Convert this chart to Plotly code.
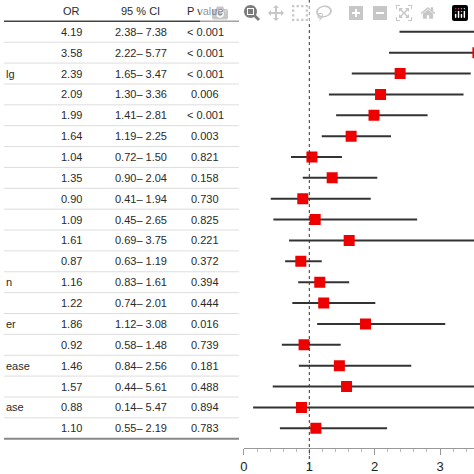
import plotly.graph_objects as go

or_vals = [4.19, 3.58, 2.39, 2.09, 1.99, 1.64, 1.04, 1.35, 0.90, 1.09, 1.61, 0.87, 1.16, 1.22, 1.86, 0.92, 1.46, 1.57, 0.88, 1.10]
ci_low = [2.38, 2.22, 1.65, 1.30, 1.41, 1.19, 0.72, 0.90, 0.41, 0.45, 0.69, 0.63, 0.83, 0.74, 1.12, 0.58, 0.84, 0.44, 0.14, 0.55]
ci_high = [7.38, 5.77, 3.47, 3.36, 2.81, 2.25, 1.50, 2.04, 1.94, 2.65, 3.75, 1.19, 1.61, 2.01, 3.08, 1.48, 2.56, 5.61, 5.47, 2.19]
p_vals = ["< 0.001", "< 0.001", "< 0.001", "0.006", "< 0.001", "0.003", "0.821", "0.158", "0.730", "0.825",
          "0.221", "0.372", "0.394", "0.444", "0.016", "0.739", "0.181", "0.488", "0.894", "0.783"]
labels = ["", "", "lg", "", "", "", "", "", "", "", "", "", "n", "", "er", "", "ease", "", "ase", ""]
headers = ["OR", "95 % CI", "P value"]
x_ticks = [0, 1, 2, 3]

n = len(or_vals)
rows = list(range(n))
W = 474.0

fig = go.Figure()
fig.add_trace(go.Scatter(
    x=or_vals, y=rows, mode="markers",
    marker=dict(symbol="square", size=11, color="#ee0000"),
    error_x=dict(type="data", symmetric=False,
                 array=[h - o for h, o in zip(ci_high, or_vals)],
                 arrayminus=[o - l for o, l in zip(or_vals, ci_low)],
                 color="#333333", thickness=2, width=0),
    showlegend=False, hoverinfo="skip"))

font = dict(family="Liberation Sans, Arial", size=11, color="#2a2a2a")
anns = []
cols = [68 / W, 138 / W, 203 / W]
for c, h in zip(cols, headers):
    anns.append(dict(x=c, y=-1, xref="paper", yref="y", text=h, showarrow=False,
                     xanchor="center", font=font))
for i in rows:
    vals = [f"{or_vals[i]:.2f}", f"{ci_low[i]:.2f}\u2013 {ci_high[i]:.2f}", p_vals[i]]
    for c, v in zip(cols, vals):
        anns.append(dict(x=c, y=i, xref="paper", yref="y", text=v, showarrow=False,
                         xanchor="center", font=font))
    if labels[i]:
        anns.append(dict(x=0, y=i, xref="paper", yref="y", text=labels[i], showarrow=False,
                         xanchor="left", font=font))

shapes = []
tab_r = 237 / W
shapes.append(dict(type="line", xref="paper", yref="y", x0=0, x1=tab_r, y0=-0.5, y1=-0.5,
                   line=dict(color="#444444", width=1.5)))
for i in rows[:-1]:
    shapes.append(dict(type="line", xref="paper", yref="y", x0=0, x1=tab_r, y0=i + 0.5, y1=i + 0.5,
                       line=dict(color="#dddddd", width=1)))
shapes.append(dict(type="line", xref="paper", yref="y", x0=0, x1=tab_r, y0=n - 0.5, y1=n - 0.5,
                   line=dict(color="#888888", width=2)))
shapes.append(dict(type="line", xref="x", yref="paper", x0=1, x1=1, y0=0, y1=1,
                   line=dict(color="#333333", width=1, dash="dot")))

fig.update_layout(
    width=474, height=474, margin=dict(l=0, r=0, t=0, b=0),
    plot_bgcolor="white", paper_bgcolor="white",
    annotations=anns, shapes=shapes,
    xaxis=dict(domain=[242 / W, 1], range=[0, 3.52], tickvals=x_ticks, ticks="outside",
               ticklen=6, tickcolor="#999999", showline=True, linecolor="#999999", linewidth=1,
               showgrid=False, zeroline=False,
               minor=dict(dtick=0.2, ticks="outside", ticklen=3, tickcolor="#bbbbbb"),
               tickfont=dict(family="Liberation Sans, Arial", size=13, color="#222222")),
    yaxis=dict(domain=[23 / W, 1], range=[(451 - 32) / 21, -32 / 21], visible=False),
)
fig.write_html("out.html", post_script="document.body.style.margin='0';")
